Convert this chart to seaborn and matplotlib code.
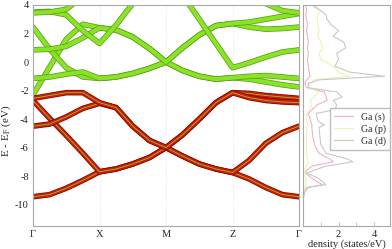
import numpy as np
import pandas as pd
import seaborn as sns
import matplotlib.pyplot as plt
import matplotlib.patheffects as pe

# k-path positions (Gamma X M Z Gamma) and band energies (eV)
kpath = [0, .25, .5, .75, 1, 1.25, 1.5, 1.75, 2, 2.25, 2.5, 2.75, 3, 3.25, 3.5, 3.75, 4]
kticks = [0, 1, 2, 3, 4]
klabels = ['Γ', 'X', 'M', 'Z', 'Γ']

val1 = [-9.45, -9.3, -8.85, -8.3, -7.7, -7.5, -7.15, -6.7, -6.0, -6.6, -7.15, -7.5, -7.75, -8.2, -8.8, -9.3, -9.45]
val2 = [-2.7, -3.95, -5.15, -6.4, -7.7, -7.5, -7.15, -6.7, -6.0, -6.6, -7.15, -7.5, -7.75, -6.9, -5.7, -4.95, -4.5]
val3 = [-4.5, -4.35, -3.85, -3.25, -2.9, -3.2, -4.5, -5.5, -6.0, -5.1, -4.0, -2.85, -2.15, -2.2, -2.35, -2.45, -2.55]
val4 = [-2.55, -2.35, -2.15, -2.15, -2.85, -3.2, -4.5, -5.5, -6.0, -5.1, -4.0, -2.85, -2.15, -2.5, -2.7, -2.8, -2.85]

con1 = [-2.3, -0.35, 1.6, 2.65, 2.4, 2.25, 1.75, 0.95, 0.0, -0.6, -1.0, -1.2, -1.1, -1.2, -1.4, -1.6, -1.75]
con2 = [2.45, 0.9, -0.4, -1.05, -1.15, -1.05, -0.8, -0.45, 0.0, 1.0, 1.9, 2.55, 2.7, 2.45, 2.3, 2.35, 2.45]
con3 = [-1.15, -1.05, -0.85, -0.7, -1.15, -1.05, -0.8, -0.45, 0.0, -0.6, -1.0, -1.2, -1.1, -1.0, -0.95, -1.05, -1.15]
con4 = [0.85, 0.9, 1.1, 1.7, 2.4, 2.25, 1.75, 0.95, 0.0, 1.0, 1.9, 2.55, 2.7, 2.8, 3.0, 3.2, 3.4]
con5 = [3.5, 3.55, 3.3, 2.2, 1.3, 2.6, 4.1, 5.2, 5.6, 4.7, 3.0, 1.3, -0.4, -0.05, 0.35, 0.7, 0.85]
con6 = [3.45, 3.5, 3.7, 4.6, 5.2, 5.6, 6.0, 6.2, 6.3, 6.2, 5.9, 5.4, 5.0, 4.6, 4.1, 3.6, 3.45]

# projected DOS (states/eV)
dos_energy = [4.0, 3.6, 3.3, 3.0, 2.6, 2.2, 1.8, 1.4, 1.0, 0.6, 0.2, -0.3, -0.7, -1.0, -1.25, -1.5,
              -1.8, -2.1, -2.45, -2.7, -3.0, -3.35, -3.6, -4.0, -4.2, -4.4, -4.6, -5.2, -5.8, -6.4,
              -6.8, -7.0, -7.3, -7.6, -7.8, -8.1, -8.4, -8.6, -8.8, -9.1, -9.4, -9.7, -10.5, -11.5]
dos_s = [0.15, 0.2, 0.15, 0.2, 0.25, 0.2, 0.25, 0.3, 0.25, 0.3, 0.25, 0.3, 0.35, 0.4, 0.2, 0.1,
         0.2, 1.2, 1.3, 1.35, 0.8, 0.5, 0.3, 0.4, 0.45, 0.5, 0.5, 0.55, 0.65, 0.9,
         1.5, 1.7, 0.5, 0.2, 0.15, 0.45, 0.8, 1.1, 0.3, 0.1, 0.03, 0.0, 0.0, 0.0]
dos_p = [0.6, 1.0, 0.8, 0.8, 0.85, 0.9, 0.85, 1.0, 1.1, 0.9, 1.0, 1.7, 2.0, 2.6, 0.6, 0.4,
         0.3, 0.9, 0.6, 0.4, 0.5, 0.35, 0.25, 0.2, 0.2, 0.25, 0.2, 0.2, 0.2, 0.2,
         0.25, 0.3, 0.2, 0.1, 0.1, 0.15, 0.15, 0.15, 0.1, 0.05, 0.0, 0.0, 0.0, 0.0]
dos_d = [0.5, 1.0, 1.3, 1.35, 1.6, 2.0, 1.7, 2.3, 2.4, 1.9, 2.0, 1.8, 2.6, 4.6, 0.9, 0.3,
         0.3, 1.9, 2.2, 1.7, 1.9, 1.8, 0.75, 0.8, 0.9, 1.2, 0.9, 0.95, 1.0, 1.3,
         2.5, 2.8, 1.3, 0.6, 0.2, 0.8, 1.1, 1.3, 0.2, 0.1, 0.05, 0.0, 0.0, 0.0]

sns.set_style('white')
plt.rcParams['font.family'] = ['Liberation Serif', 'DejaVu Serif']
plt.rcParams['axes.unicode_minus'] = False
plt.rcParams['mathtext.fontset'] = 'stix'

fig = plt.figure(figsize=(3.92, 2.49), dpi=100)
ax = fig.add_axes([0.0842, 0.0924, 0.6786, 0.8876])
ax2 = fig.add_axes([0.773, 0.0924, 0.222, 0.8876], sharey=ax)

red_fx = [pe.Stroke(linewidth=4.0, foreground='#8a0000'), pe.Normal()]
green_fx = [pe.Stroke(linewidth=4.0, foreground='#569a18'), pe.Normal()]

for band in [con1, con2, con3, con4, con5, con6]:
    sns.lineplot(x=kpath, y=band, ax=ax, sort=False, estimator=None, color='#8ae324',
                 linewidth=3.0, path_effects=green_fx)
for band in [val1, val2, val3, val4]:
    sns.lineplot(x=kpath, y=band, ax=ax, sort=False, estimator=None, color='#d01a0a',
                 linewidth=3.0, path_effects=red_fx)
    sns.lineplot(x=kpath, y=band, ax=ax, sort=False, estimator=None, color='#7fd020',
                 linewidth=0.6)

for k in kticks[1:-1]:
    ax.axvline(k, color='#e2e2e2', linewidth=0.6, linestyle=':', zorder=0)

ax.set_xlim(0, 4)
ax.set_ylim(-11.5, 4)
ax.set_xticks(kticks)
ax.set_xticklabels(klabels)
ax.set_yticks([4, 2, 0, -2, -4, -6, -8, -10])
ax.set_ylabel('E - E$_\\mathrm{F}$ (eV)', fontsize=8)
ax.yaxis.set_label_coords(-0.075, 0.43)
ax.tick_params(axis='both', labelsize=7.5, direction='in', length=3, color='#c0c0c0', pad=3)

sns.lineplot(x=dos_s, y=dos_energy, ax=ax2, sort=False, estimator=None, color='#f7b0c0',
             linewidth=0.8, label='Ga (s)')
sns.lineplot(x=dos_p, y=dos_energy, ax=ax2, sort=False, estimator=None, color='#e8f6b0',
             linewidth=0.8, label='Ga (p)')
sns.lineplot(x=dos_d, y=dos_energy, ax=ax2, sort=False, estimator=None, color='#c8c8c8',
             linewidth=0.8, label='Ga (d)')
ax2.set_xlim(0, 4.9)
ax2.set_xticks([2, 4])
ax2.set_xticks([1, 3], minor=True)
ax2.set_xlabel('density (states/eV)', fontsize=7.5, labelpad=0)
ax2.set_ylabel('')
ax2.tick_params(axis='y', left=False, labelleft=False)
ax2.tick_params(axis='x', which='both', labelsize=7.5, direction='in', length=3,
                color='#c0c0c0', pad=3, bottom=True)
ax2.legend(loc='lower right', bbox_to_anchor=(1.0, 0.345), fontsize=7, frameon=True,
           fancybox=False, edgecolor='#b0b0b0', borderpad=0.4, handlelength=2.0,
           labelspacing=0.25, borderaxespad=0)

for a in (ax, ax2):
    for s in a.spines.values():
        s.set_color('#a8a8a8')
        s.set_linewidth(0.8)

fig.savefig('out.png', dpi=100)
